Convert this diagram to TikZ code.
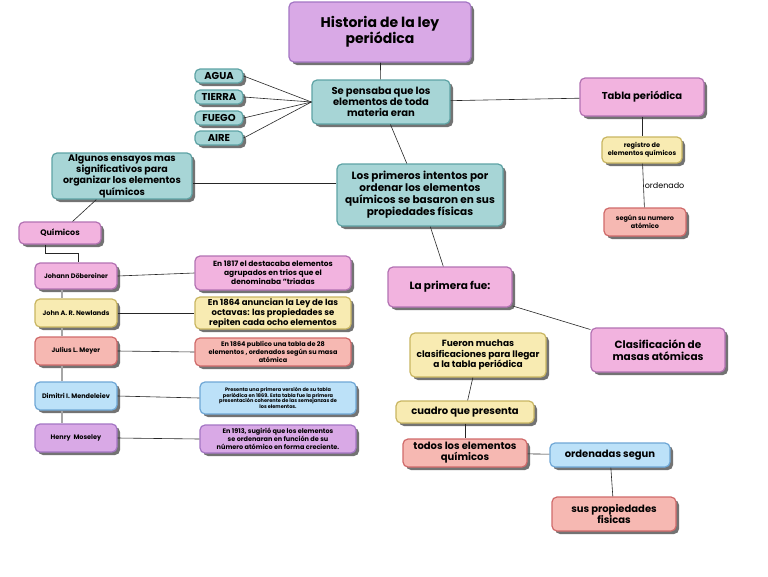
\documentclass[tikz,border=0pt]{standalone}
\usepackage{fontspec}
\setmainfont{Poppins}
\usetikzlibrary{shadows}
\definecolor{cpur}{HTML}{D9A9E6}\definecolor{bpur}{HTML}{A476C4}
\definecolor{ctea}{HTML}{A7D5D6}\definecolor{btea}{HTML}{5EA3A5}
\definecolor{cpin}{HTML}{F2B3DF}\definecolor{bpin}{HTML}{B372B3}
\definecolor{cyel}{HTML}{F8EBB2}\definecolor{byel}{HTML}{C9B662}
\definecolor{csal}{HTML}{F6B8B2}\definecolor{bsal}{HTML}{D06A6A}
\definecolor{cblu}{HTML}{BCE1F8}\definecolor{bblu}{HTML}{6FA7D6}
\tikzset{
 x=1pt,y=-1pt,
 bx/.style={draw=#1!100!black,line width=1.2pt,rounded corners=5pt,align=center,font=\bfseries,inner sep=1pt,
   drop shadow={shadow xshift=3pt,shadow yshift=-3pt,fill=black!55,opacity=1}},
 pur/.style={bx=bpur,fill=cpur}, tea/.style={bx=btea,fill=ctea}, pin/.style={bx=bpin,fill=cpin},
 yel/.style={bx=byel,fill=cyel}, sal/.style={bx=bsal,fill=csal}, blu/.style={bx=bblu,fill=cblu},
 sz/.style n args={2}{minimum width=#1pt,minimum height=#2pt},
 ln/.style={draw=black!85,line width=0.6pt},
 gl/.style={draw=black!35,line width=2pt},
}
\begin{document}
\begin{tikzpicture}
\useasboundingbox[fill=white] (0,0) rectangle (768,576);
\node[pur,sz={182}{60},font=\bfseries\fontsize{14}{15}\selectfont] (t) at (380,32) {Historia de la ley\\periódica};
\node[tea,sz={138}{44},font=\bfseries\fontsize{10}{11}\selectfont] (p) at (381,102) {Se pensaba que los\\elementos de toda\\materia eran};
\foreach \n/\t/\y in {a/AGUA/76,ti/TIERRA/97,f/FUEGO/118,ai/AIRE/138}
  \node[tea,sz={48}{14},font=\bfseries\fontsize{10}{11}\selectfont] (\n) at (219,\y) {\t};
\node[pin,sz={124}{38},font=\bfseries\fontsize{10}{11}\selectfont] (tp) at (642,97) {Tabla periódica};
\node[yel,sz={80}{26},font=\bfseries\fontsize{6.5}{7.5}\selectfont] (re) at (642,150) {registro de\\elementos químicos};
\node[sal,sz={82}{28},font=\bfseries\fontsize{6.5}{8.5}\selectfont] (sn) at (645,222) {según su numero\\atómico};
\node[tea,sz={140}{46},font=\bfseries\fontsize{9.5}{10}\selectfont] (al) at (122,176) {Algunos ensayos mas\\significativos para\\organizar los elementos\\químicos};
\node[tea,sz={166}{62},font=\bfseries\fontsize{10.5}{12}\selectfont] (pr) at (420,195) {Los primeros intentos por\\ordenar los elementos\\químicos se basaron en sus\\propiedades físicas};
\node[pin,sz={82}{22},font=\bfseries\fontsize{8}{9}\selectfont] (q) at (60,233) {Químicos};
\node[pin,sz={82}{26},font=\bfseries\fontsize{6.5}{7}\selectfont] (j) at (76,276) {Johann Döbereiner};
\node[yel,sz={82}{28},font=\bfseries\fontsize{6.5}{7}\selectfont] (n) at (76,313) {John A. R. Newlands};
\node[sal,sz={82}{28},font=\bfseries\fontsize{6.5}{7}\selectfont] (m) at (76,351) {Julius L. Meyer};
\node[blu,sz={82}{28},font=\bfseries\fontsize{6.5}{7}\selectfont] (me) at (76,396) {Dimitri I. Mendeleiev};
\node[pur,sz={82}{28},font=\bfseries\fontsize{6.5}{7}\selectfont] (mo) at (76,438) {Henry\ \ Moseley};
\node[pin,sz={156}{34},font=\bfseries\fontsize{7.5}{9}\selectfont] (jr) at (273,273) {En 1817 el destacaba elementos\\agrupados en trios que el\\denominaba "triadas};
\node[yel,sz={156}{32},font=\bfseries\fontsize{8.5}{10}\selectfont] (nr) at (273,313) {En 1864 anuncian la Ley de las\\octavas: las propiedades se\\repiten cada ocho elementos};
\node[sal,sz={156}{28},font=\bfseries\fontsize{6.5}{8}\selectfont] (mr) at (273,352) {En 1864 publico una tabla de 28\\elementos , ordenados según su masa\\atómica};
\node[blu,sz={156}{32},font=\bfseries\fontsize{5}{5.6}\selectfont] (mer) at (278,398) {Presenta una primera versión de su tabla\\periódica en 1869. Esta tabla fue la primera\\presentación coherente de las semejanzas de\\los elementos.};
\node[pur,sz={156}{28},font=\bfseries\fontsize{6.5}{8}\selectfont] (mor) at (278,439) {En 1913, sugirió que los elementos\\se ordenaran en función de su\\número atómico en forma creciente.};
\node[pin,sz={124}{40},font=\bfseries\fontsize{10.5}{12}\selectfont] (pf) at (450,287) {La primera fue:};
\node[pin,sz={134}{44},font=\bfseries\fontsize{10.5}{12}\selectfont] (cm) at (658,350) {Clasificación de\\masas atómicas};
\node[yel,sz={136}{44},font=\bfseries\fontsize{9}{10.5}\selectfont] (fu) at (478,355) {Fueron muchas\\clasificaciones para llegar\\a la tabla periódica};
\node[yel,sz={138}{22},font=\bfseries\fontsize{10}{11}\selectfont] (cu) at (465,412) {cuadro que presenta};
\node[sal,sz={124}{28},font=\bfseries\fontsize{10}{11}\selectfont] (to) at (465,453) {todos los elementos\\químicos};
\node[blu,sz={120}{24},font=\bfseries\fontsize{10}{11}\selectfont] (or) at (610,455) {ordenadas segun};
\node[sal,sz={124}{34},font=\bfseries\fontsize{10}{11}\selectfont] (su) at (614,514) {sus propiedades\\fisicas};
\begin{scope}[on background layer/.code={}]
\end{scope}
\draw[ln] (t) -- (p);
\foreach \n in {a,ti,f,ai} \draw[ln] (p.west) -- (\n.east);
\draw[ln] (p) -- (tp);
\draw[ln] (p) -- (pr);
\draw[ln] (pr.west|-al.east) ++(0,7) coordinate (pw) (al.east) ++(0,7) coordinate (ae);
\draw[ln] (pw) -- (ae);
\draw[ln] (al) -- (q);
\draw[ln] (q.south-|45,0) -- (45,253) -- (78,253) -- (j.north-|78,0);
\draw[gl] (j.south-|62,0) -- (n.north-|62,0) (n.south-|62,0) -- (m.north-|62,0) (m.south-|62,0) -- (me.north-|62,0) (me.south-|62,0) -- (mo.north-|62,0);
\draw[ln] (j.east) -- (jr.west);
\draw[ln] (n.east) -- (nr.west);
\draw[ln] (m.east) -- (mr.west);
\draw[ln] (me.east) -- (mer.west);
\draw[ln] (mo.east) -- (mor.west);
\draw[ln] (pr) -- (pf);
\draw[ln] (pf) -- (cm);
\draw[ln] (tp) -- (re);
\draw[ln] (re) -- node[right,font=\fontsize{8}{9}\selectfont,inner sep=1pt]{ordenado} (sn);
\draw[ln] (fu) -- (cu);
\draw[ln] (cu) -- (to);
\draw[ln] (to) -- (or);
\draw[ln] (or) -- (su);
\end{tikzpicture}
\end{document}
